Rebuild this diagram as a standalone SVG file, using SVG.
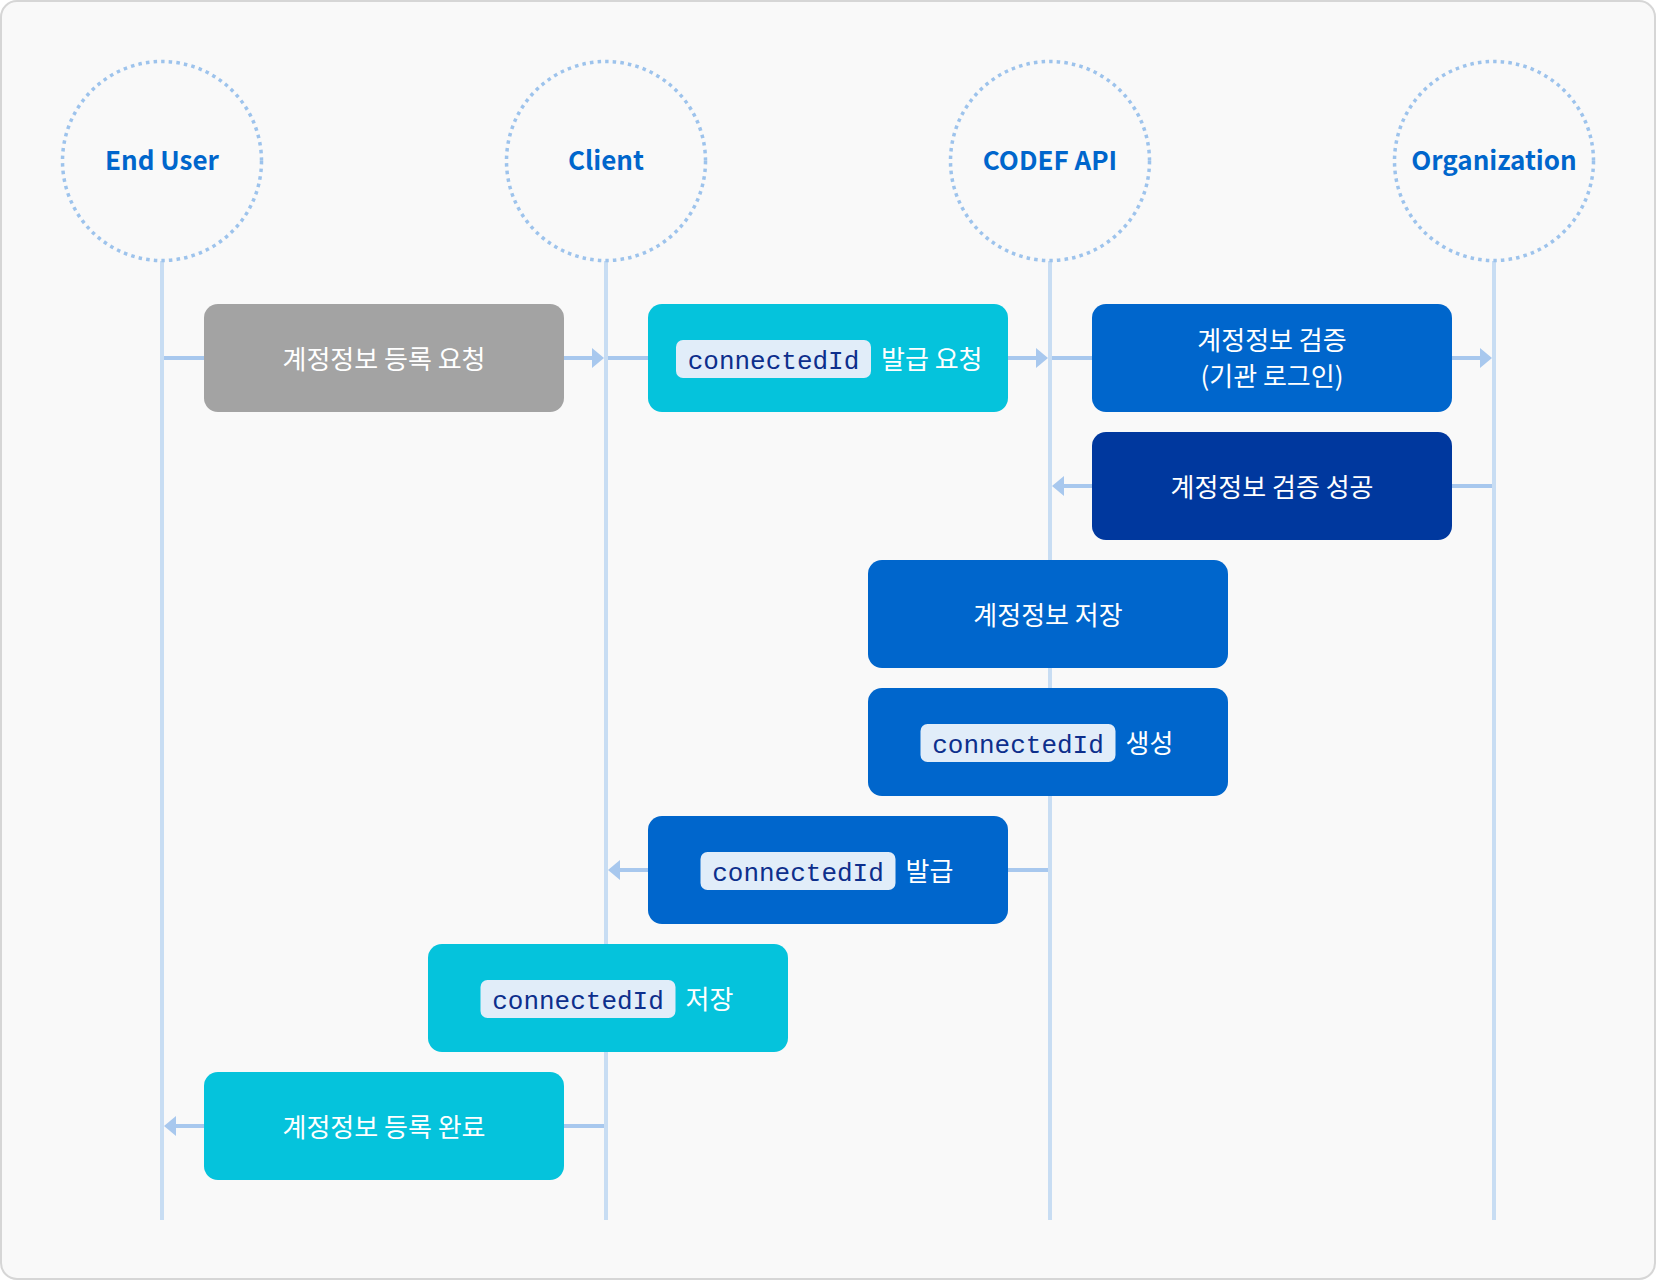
<svg xmlns="http://www.w3.org/2000/svg" width="1656" height="1280" viewBox="0 0 1656 1280">
<defs>
<style>
.frame{fill:#f9f9f9;stroke:#d6d6d6;stroke-width:2}
.actor{fill:none;stroke:#9dc3ec;stroke-width:3.5;stroke-dasharray:3.5 4.16}
.life{stroke:#c8ddf3;stroke-width:4;fill:none}
.head{font-family:"Noto Sans CJK KR","Noto Sans",sans-serif;font-weight:700;font-size:26px;fill:#0066cc;text-anchor:middle}
.lbl{font-family:"Noto Sans CJK KR","Noto Sans",sans-serif;font-size:26px;fill:#ffffff;text-anchor:middle}
.lbls{font-family:"Noto Sans CJK KR","Noto Sans",sans-serif;font-size:26px;fill:#ffffff;text-anchor:start}
.code{font-family:"Liberation Mono","DejaVu Sans Mono",monospace;font-size:26px;fill:#0d2f8c;text-anchor:middle}
.pill{fill:#e1edf9}
.gray{fill:#a3a3a3}
.cyan{fill:#05c3dc}
.blue{fill:#0066cc}
.navy{fill:#00389e}
.conn{stroke:#a8c8ee;stroke-width:4;fill:none}
.arr{marker-end:url(#ah)}
</style>
<marker id="ah" markerUnits="userSpaceOnUse" markerWidth="12" markerHeight="20" refX="9" refY="10" orient="auto">
<path d="M0,0 L12,10 L0,20 Z" fill="#a8c8ee"/>
</marker>
</defs>
<rect class="frame" x="1" y="1" width="1654" height="1278" rx="16"/>

<g id="lifelines">
<line class="life" x1="162" y1="261" x2="162" y2="1220"/>
<line class="life" x1="606" y1="261" x2="606" y2="1220"/>
<line class="life" x1="1050" y1="261" x2="1050" y2="1220"/>
<line class="life" x1="1494" y1="261" x2="1494" y2="1220"/>
</g>

<g id="actor-enduser">
<circle class="actor" cx="162" cy="161" r="99.5"/>
<text class="head" x="162" y="170">End User</text>
</g>
<g id="actor-client">
<circle class="actor" cx="606" cy="161" r="99.5"/>
<text class="head" x="606" y="170">Client</text>
</g>
<g id="actor-codef">
<circle class="actor" cx="1050" cy="161" r="99.5"/>
<text class="head" x="1050" y="170">CODEF API</text>
</g>
<g id="actor-org">
<circle class="actor" cx="1494" cy="161" r="99.5"/>
<text class="head" x="1494" y="170">Organization</text>
</g>

<g id="connectors">
<path class="conn" d="M164 358 H204"/>
<path class="conn arr" d="M564 358 H601"/>
<path class="conn" d="M608 358 H648"/>
<path class="conn arr" d="M1008 358 H1045"/>
<path class="conn" d="M1052 358 H1092"/>
<path class="conn arr" d="M1452 358 H1489"/>
<path class="conn" d="M1492 486 H1452"/>
<path class="conn arr" d="M1092 486 H1055"/>
<path class="conn" d="M1048 870 H1008"/>
<path class="conn arr" d="M648 870 H611"/>
<path class="conn" d="M604 1126 H564"/>
<path class="conn arr" d="M204 1126 H167"/>
</g>

<g id="step1-register-request">
<rect class="gray" x="204" y="304" width="360" height="108" rx="14"/>
<text class="lbl" x="384" y="369">계정정보 등록 요청</text>
</g>
<g id="step2-issue-request">
<rect class="cyan" x="648" y="304" width="360" height="108" rx="14"/>
<rect class="pill" x="676" y="340" width="195" height="38" rx="7"/>
<text class="code" x="773.5" y="369">connectedId</text>
<text class="lbls" x="881" y="369">발급 요청</text>
</g>
<g id="step3-verify">
<rect class="blue" x="1092" y="304" width="360" height="108" rx="14"/>
<text class="lbl" x="1272" y="350">계정정보 검증</text>
<text class="lbl" x="1272" y="386">(기관 로그인)</text>
</g>
<g id="step4-verify-ok">
<rect class="navy" x="1092" y="432" width="360" height="108" rx="14"/>
<text class="lbl" x="1272" y="497">계정정보 검증 성공</text>
</g>
<g id="step5-store">
<rect class="blue" x="868" y="560" width="360" height="108" rx="14"/>
<text class="lbl" x="1048" y="625">계정정보 저장</text>
</g>
<g id="step6-generate">
<rect class="blue" x="868" y="688" width="360" height="108" rx="14"/>
<rect class="pill" x="920.5" y="724" width="195" height="38" rx="7"/>
<text class="code" x="1018" y="753">connectedId</text>
<text class="lbls" x="1125.5" y="753">생성</text>
</g>
<g id="step7-issue">
<rect class="blue" x="648" y="816" width="360" height="108" rx="14"/>
<rect class="pill" x="700.5" y="852" width="195" height="38" rx="7"/>
<text class="code" x="798" y="881">connectedId</text>
<text class="lbls" x="905.5" y="881">발급</text>
</g>
<g id="step8-client-store">
<rect class="cyan" x="428" y="944" width="360" height="108" rx="14"/>
<rect class="pill" x="480.5" y="980" width="195" height="38" rx="7"/>
<text class="code" x="578" y="1009">connectedId</text>
<text class="lbls" x="685.5" y="1009">저장</text>
</g>
<g id="step9-complete">
<rect class="cyan" x="204" y="1072" width="360" height="108" rx="14"/>
<text class="lbl" x="384" y="1137">계정정보 등록 완료</text>
</g>
</svg>
